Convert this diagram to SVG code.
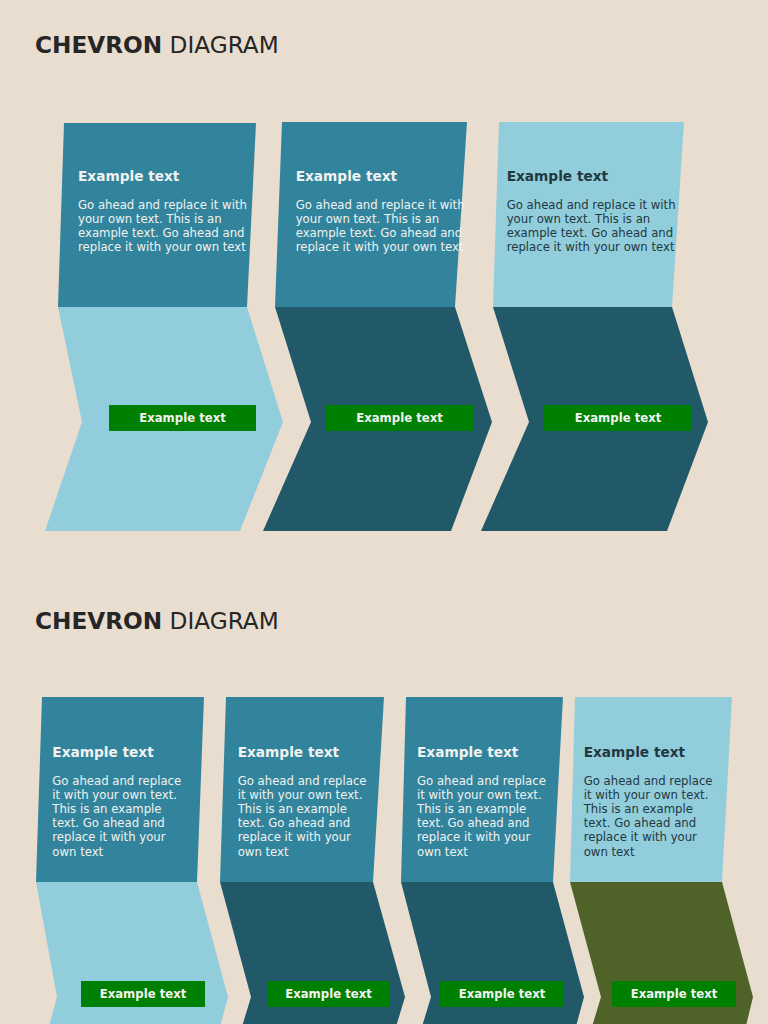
<svg xmlns="http://www.w3.org/2000/svg" width="768" height="1024" viewBox="0 0 768 1024">
<style>
.bg{fill:#E9DDD0}
.teal{fill:#31849B}
.light{fill:#92CDDC}
.dark{fill:#215968}
.olive{fill:#4F6228}
.btn{fill:#008000}
.hdr{font-family:"DejaVu Sans","Liberation Sans",sans-serif;font-size:23.2px;fill:#262626}
.ttl{font-family:"DejaVu Sans","Liberation Sans",sans-serif;font-size:13.7px;font-weight:bold}
.body{font-family:"DejaVu Sans","Liberation Sans",sans-serif;font-size:11.7px}
.lbl{font-family:"DejaVu Sans","Liberation Sans",sans-serif;font-size:11.7px;font-weight:bold;fill:#F2F2F2;text-anchor:middle}
.w{fill:#F2F2F2}
.d{fill:#22383F}
</style>
<rect class="bg" x="0" y="0" width="768" height="1024"/>

<text class="hdr" x="35" y="52.5"><tspan font-weight="bold">CHEVRON</tspan> DIAGRAM</text>
<text class="hdr" x="35" y="628.5"><tspan font-weight="bold">CHEVRON</tspan> DIAGRAM</text>

<g id="connectors"></g>

<!-- Top row -->
<g id="top1">
  <polygon class="teal" points="64,123 256,123 247,307 58,307"/>
  <polygon class="light" points="58,307 247,307 283,422 240,531 45,531 82,422"/>
  <text class="ttl w" x="78" y="181">Example text</text>
  <text class="body w"><tspan x="78" y="209">Go ahead and replace it with</tspan><tspan x="78" y="223">your own text. This is an</tspan><tspan x="78" y="237">example text. Go ahead and</tspan><tspan x="78" y="251">replace it with your own text</tspan></text>
  <rect class="btn" x="109" y="405" width="147" height="26"/>
  <text class="lbl" x="182.5" y="422">Example text</text>
</g>
<g id="top2">
  <polygon class="teal" points="282,122 467,122 455,307 275,307"/>
  <polygon class="dark" points="275,307 455,307 492,422 451,531 263,531 311,422"/>
  <text class="ttl w" x="295.7" y="181">Example text</text>
  <text class="body w"><tspan x="295.7" y="209">Go ahead and replace it with</tspan><tspan x="295.7" y="223">your own text. This is an</tspan><tspan x="295.7" y="237">example text. Go ahead and</tspan><tspan x="295.7" y="251">replace it with your own text</tspan></text>
  <rect class="btn" x="326" y="405" width="147" height="26"/>
  <text class="lbl" x="399.5" y="422">Example text</text>
</g>
<g id="top3">
  <polygon class="light" points="499,122 684,122 672,307 493,307"/>
  <polygon class="dark" points="493,307 672,307 708,422 667,531 481,531 529,422"/>
  <text class="ttl d" x="506.7" y="181">Example text</text>
  <text class="body d"><tspan x="506.7" y="209">Go ahead and replace it with</tspan><tspan x="506.7" y="223">your own text. This is an</tspan><tspan x="506.7" y="237">example text. Go ahead and</tspan><tspan x="506.7" y="251">replace it with your own text</tspan></text>
  <rect class="btn" x="544" y="405" width="148" height="26"/>
  <text class="lbl" x="618" y="422">Example text</text>
</g>

<!-- Bottom row -->
<g id="bot1">
  <polygon class="teal" points="42,697 204,697 197,882 36,882"/>
  <polygon class="light" points="36,882 197,882 228,997 219,1030 48,1030 57,997"/>
  <text class="ttl w" x="52.3" y="756.7">Example text</text>
  <text class="body w"><tspan x="52.3" y="784.5">Go ahead and replace</tspan><tspan x="52.3" y="798.7">it with your own text.</tspan><tspan x="52.3" y="812.9">This is an example</tspan><tspan x="52.3" y="827.1">text. Go ahead and</tspan><tspan x="52.3" y="841.3">replace it with your</tspan><tspan x="52.3" y="855.5">own text</tspan></text>
  <rect class="btn" x="81" y="981" width="124" height="26"/>
  <text class="lbl" x="143" y="998">Example text</text>
</g>
<g id="bot2">
  <polygon class="teal" points="226,697 384,697 373,882 220,882"/>
  <polygon class="dark" points="220,882 373,882 405,997 395,1030 241,1030 251,997"/>
  <text class="ttl w" x="237.7" y="756.7">Example text</text>
  <text class="body w"><tspan x="237.7" y="784.5">Go ahead and replace</tspan><tspan x="237.7" y="798.7">it with your own text.</tspan><tspan x="237.7" y="812.9">This is an example</tspan><tspan x="237.7" y="827.1">text. Go ahead and</tspan><tspan x="237.7" y="841.3">replace it with your</tspan><tspan x="237.7" y="855.5">own text</tspan></text>
  <rect class="btn" x="267" y="981" width="123" height="26"/>
  <text class="lbl" x="328.5" y="998">Example text</text>
</g>
<g id="bot3">
  <polygon class="teal" points="406,697 563,697 553,882 401,882"/>
  <polygon class="dark" points="401,882 553,882 584,997 575,1030 421,1030 431,997"/>
  <text class="ttl w" x="417" y="756.7">Example text</text>
  <text class="body w"><tspan x="417" y="784.5">Go ahead and replace</tspan><tspan x="417" y="798.7">it with your own text.</tspan><tspan x="417" y="812.9">This is an example</tspan><tspan x="417" y="827.1">text. Go ahead and</tspan><tspan x="417" y="841.3">replace it with your</tspan><tspan x="417" y="855.5">own text</tspan></text>
  <rect class="btn" x="440" y="981" width="124" height="26"/>
  <text class="lbl" x="502" y="998">Example text</text>
</g>
<g id="bot4">
  <polygon class="light" points="575,697 732,697 722,882 570,882"/>
  <polygon class="olive" points="570,882 722,882 753,997 745,1030 591,1030 601,997"/>
  <text class="ttl d" x="583.7" y="756.7">Example text</text>
  <text class="body d"><tspan x="583.7" y="784.5">Go ahead and replace</tspan><tspan x="583.7" y="798.7">it with your own text.</tspan><tspan x="583.7" y="812.9">This is an example</tspan><tspan x="583.7" y="827.1">text. Go ahead and</tspan><tspan x="583.7" y="841.3">replace it with your</tspan><tspan x="583.7" y="855.5">own text</tspan></text>
  <rect class="btn" x="612" y="981" width="124" height="26"/>
  <text class="lbl" x="674" y="998">Example text</text>
</g>
</svg>
